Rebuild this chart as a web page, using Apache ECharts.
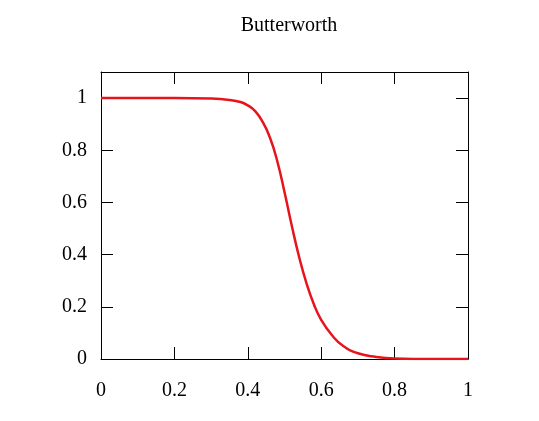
<!DOCTYPE html>
<html>
<head>
<meta charset="utf-8">
<script src="https://cdn.jsdelivr.net/npm/echarts@6/dist/echarts.min.js"></script>
<style>html,body{margin:0;padding:0;background:#fff}#main{width:539px;height:421px}</style>
</head>
<body>
<div id="main"></div>
<script>
var titleText = 'Butterworth';
var xs = [0, 0.1, 0.2, 0.3, 0.35, 0.38, 0.4, 0.42, 0.44, 0.46, 0.48, 0.5, 0.52, 0.54, 0.56, 0.58, 0.6, 0.63, 0.66, 0.7, 0.75, 0.8, 0.9, 1];
var ys = [1, 1, 1, 0.998, 0.993, 0.985, 0.972, 0.95, 0.91, 0.85, 0.76, 0.64, 0.51, 0.39, 0.29, 0.21, 0.15, 0.09, 0.05, 0.022, 0.008, 0.002, 0, 0];

var pts = xs.map(function (x, i) { return [x, ys[i]]; });
var myChart = echarts.init(document.getElementById('main'));
var font = 'Liberation Serif';
function ax(extra) {
  return Object.assign({
    type: 'value', min: 0, interval: 0.2,
    axisLine: { onZero: false, lineStyle: { color: '#000', width: 1 } },
    axisTick: { inside: true, length: 12, lineStyle: { color: '#000' } },
    splitLine: { show: false },
    axisLabel: { show: false }
  }, extra);
}
myChart.setOption({
  title: { text: titleText, left: 284, textAlign: 'center', top: 11,
    textStyle: { fontFamily: font, fontSize: 20, fontWeight: 'normal', color: '#000' } },
  grid: { left: 101, right: 71, top: 72, bottom: 62 },
  xAxis: [
    ax({ max: 1, position: 'bottom', axisLabel: { color: '#000', fontFamily: font, fontSize: 20, margin: 22,
      formatter: function (v) { return String(+v.toFixed(1)); } } }),
    ax({ max: 1, position: 'top' })
  ],
  yAxis: [
    ax({ max: 1.1, position: 'left', axisLabel: { color: '#000', fontFamily: font, fontSize: 20, margin: 14,
      formatter: function (v) { return v > 1.05 ? '' : String(+v.toFixed(1)); } } }),
    ax({ max: 1.1, position: 'right' })
  ],
  series: [{
    type: 'line', data: pts, smooth: true, showSymbol: false,
    lineStyle: { color: '#e8141c', width: 2.5 }
  }]
});
</script>
</body>
</html>
